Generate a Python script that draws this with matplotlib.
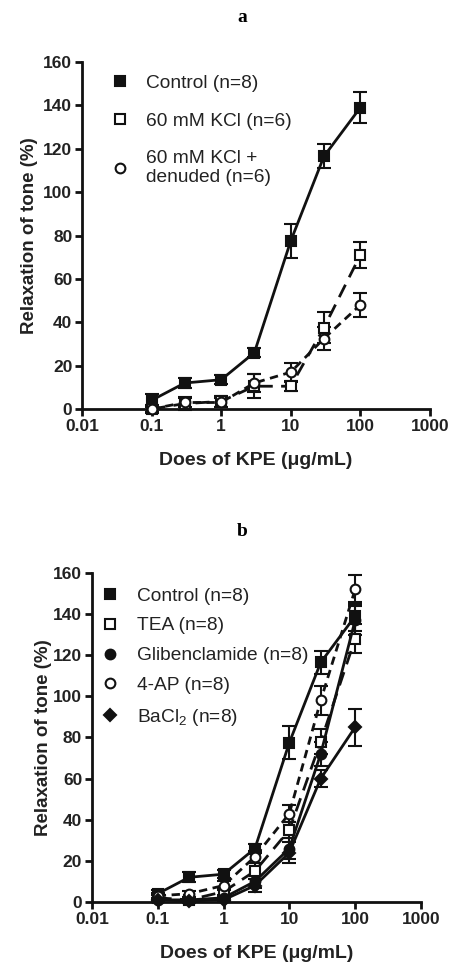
import matplotlib
matplotlib.use("Agg")
import matplotlib.pyplot as plt
from matplotlib.lines import Line2D

plt.rcParams['font.family'] = ['Liberation Sans', 'DejaVu Sans']
plt.rcParams['mathtext.fontset'] = 'custom'
plt.rcParams['mathtext.rm'] = 'Liberation Sans'
plt.rcParams['mathtext.it'] = 'Liberation Sans:italic'
plt.rcParams['mathtext.bf'] = 'Liberation Sans:bold'

doses = [0.1, 0.3, 1, 3, 10, 30, 100]

# Panel a
a_control = [4, 12, 13.5, 26, 77.5, 116.5, 139]
a_control_err = [3, 2.5, 2, 2, 8, 5.5, 7]
a_kcl = [0, 2.5, 3.5, 10.5, 10.5, 37.5, 71]
a_kcl_err = [2, 3, 2.5, 5.5, 2, 7, 6]
a_den = [0, 3, 3, 12, 17, 32.5, 48]
a_den_err = [1.5, 2, 2, 4, 4, 5.5, 5.5]

# Panel b
b_control = [4, 12, 13.5, 26, 77.5, 116.5, 139]
b_control_err = [2, 2.5, 2, 2, 8, 5.5, 7]
b_tea = [2, 1, 5, 15, 35, 78, 128]
b_tea_err = [1.5, 1.5, 2, 4, 4, 6, 7]
b_glib = [1, 1, 2, 10, 26, 72, 137]
b_glib_err = [1, 1, 1.5, 3, 5, 6, 7]
b_4ap = [3, 4, 8, 22, 43, 98, 152]
b_4ap_err = [1.5, 1.5, 2, 3, 4, 7, 7]
b_ba = [1, 0.5, 1, 8, 24, 60, 85]
b_ba_err = [1, 1, 1, 3, 5, 4, 9]

xticks = [0.01, 0.1, 1, 10, 100, 1000]
xticklabels = ['0.01', '0.1', '1', '10', '100', '1000']
yticks = [0, 20, 40, 60, 80, 100, 120, 140, 160]

fig = plt.figure(figsize=(4.74, 9.66), dpi=100)
ax_a = fig.add_axes([0.173, 0.5766, 0.734, 0.3592])
ax_b = fig.add_axes([0.194, 0.0663, 0.694, 0.3405])

def style_axes(ax, ylabelpad):
    ax.set_xscale('log')
    ax.set_xlim(0.01, 1000)
    ax.set_ylim(0, 160)
    ax.set_xticks(xticks)
    ax.set_xticklabels(xticklabels)
    ax.minorticks_off()
    ax.set_yticks(yticks)
    for s in ['top', 'right']:
        ax.spines[s].set_visible(False)
    for s in ['left', 'bottom']:
        ax.spines[s].set_linewidth(2)
        ax.spines[s].set_color('#111111')
    ax.tick_params(width=2, length=5, direction='out', labelsize=12.5, colors='#111111', pad=2)
    for lbl in ax.get_xticklabels() + ax.get_yticklabels():
        lbl.set_fontweight('bold')
        lbl.set_color('#222222')
    ax.set_xlabel('Does of KPE (\u03bcg/mL)', fontsize=14, fontweight='bold', color='#222222', labelpad=13)
    ax.set_ylabel('Relaxation of tone (%)', fontsize=13.5, fontweight='bold', color='#222222', labelpad=ylabelpad)

def series(ax, y, err, marker, mfc, ls, ms=7):
    ax.errorbar(doses, y, yerr=err, color='#111111', marker=marker, mfc=mfc, mec='#111111',
                ms=ms, mew=1.5, ls=ls, lw=2, capsize=5, capthick=1.5, elinewidth=1.5, clip_on=False, zorder=3)

# Panel a
series(ax_a, a_control, a_control_err, 's', '#111111', '-')
series(ax_a, a_kcl, a_kcl_err, 's', 'white', (0, (5, 3)))
series(ax_a, a_den, a_den_err, 'o', 'white', (0, (3, 2)))
style_axes(ax_a, 4)

h_a = [Line2D([], [], ls='none', marker='s', mfc='#111111', mec='#111111', ms=7, mew=1.5),
       Line2D([], [], ls='none', marker='s', mfc='white', mec='#111111', ms=7, mew=1.5),
       Line2D([], [], ls='none', marker='o', mfc='white', mec='#111111', ms=7, mew=1.5)]
leg_a = ax_a.legend(h_a, ['Control (n=8)', '60 mM KCl (n=6)', '60 mM KCl +\ndenuded (n=6)'],
                    loc='upper left', bbox_to_anchor=(0.05, 0.997), frameon=False, fontsize=13.8,
                    handlelength=1.0, handletextpad=0.85, labelspacing=1.05, borderaxespad=0.2)
for t in leg_a.get_texts():
    t.set_color('#222222')

# Panel b
series(ax_b, b_control, b_control_err, 's', '#111111', '-')
series(ax_b, b_tea, b_tea_err, 's', 'white', (0, (5, 3)))
series(ax_b, b_glib, b_glib_err, 'o', '#111111', '-')
series(ax_b, b_4ap, b_4ap_err, 'o', 'white', (0, (3, 2)))
series(ax_b, b_ba, b_ba_err, 'D', '#111111', '-', ms=6)
style_axes(ax_b, 1)

h_b = [Line2D([], [], ls='none', marker='s', mfc='#111111', mec='#111111', ms=7, mew=1.5),
       Line2D([], [], ls='none', marker='s', mfc='white', mec='#111111', ms=7, mew=1.5),
       Line2D([], [], ls='none', marker='o', mfc='#111111', mec='#111111', ms=7, mew=1.5),
       Line2D([], [], ls='none', marker='o', mfc='white', mec='#111111', ms=7, mew=1.5),
       Line2D([], [], ls='none', marker='D', mfc='#111111', mec='#111111', ms=6, mew=1.5)]
leg_b = ax_b.legend(h_b, ['Control (n=8)', 'TEA (n=8)', 'Glibenclamide (n=8)', '4-AP (n=8)', 'BaCl$_2$ (n=8)'],
                    loc='upper left', bbox_to_anchor=(-0.01, 0.992), frameon=False, fontsize=13.8,
                    handlelength=1.0, handletextpad=0.9, labelspacing=0.65, borderaxespad=0.2)
for t in leg_b.get_texts():
    t.set_color('#222222')

fig.text(242 / 474, 1 - 18 / 966, 'a', fontsize=14, fontweight='bold', family='Liberation Serif',
         ha='center', va='center')
fig.text(242 / 474, 1 - 532 / 966, 'b', fontsize=14, fontweight='bold', family='Liberation Serif',
         ha='center', va='center')

fig.savefig('out.png', dpi=100)
